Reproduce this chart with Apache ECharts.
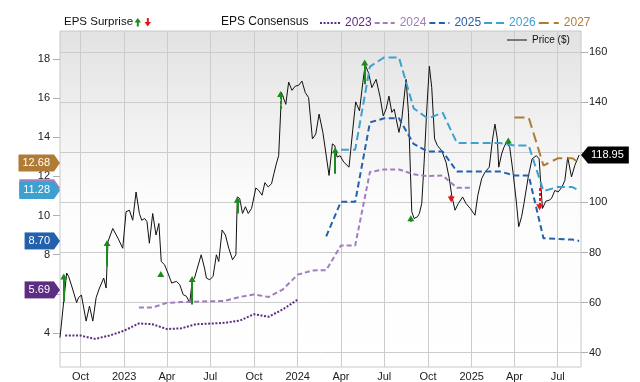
<!DOCTYPE html>
<html><head><meta charset="utf-8">
<script src="https://cdn.jsdelivr.net/npm/echarts@6/dist/echarts.min.js"></script>
<style>html,body{margin:0;padding:0;background:#fff}#c{width:640px;height:382px}</style>
</head><body><div id="c"></div>
<script>
// ---------- data ----------
const priceDates = ['2022-08-19','2022-09-02','2022-09-06','2022-09-12','2022-09-23','2022-09-27','2022-10-03','2022-10-06','2022-10-13','2022-10-20','2022-10-27','2022-11-03','2022-11-10','2022-11-19','2022-11-24','2022-11-28','2022-12-08','2022-12-19','2022-12-29','2023-01-05','2023-01-12','2023-01-19','2023-01-26','2023-02-02','2023-02-07','2023-02-13','2023-02-18','2023-02-23','2023-03-02','2023-03-09','2023-03-15','2023-03-20','2023-03-27','2023-04-03','2023-04-11','2023-04-21','2023-04-28','2023-05-05','2023-05-12','2023-05-19','2023-05-24','2023-05-29','2023-06-04','2023-06-12','2023-06-19','2023-06-23','2023-06-30','2023-07-07','2023-07-14','2023-07-19','2023-07-26','2023-08-02','2023-08-09','2023-08-17','2023-08-24','2023-08-27','2023-09-01','2023-09-07','2023-09-13','2023-09-19','2023-09-26','2023-10-05','2023-10-11','2023-10-18','2023-10-24','2023-10-31','2023-11-07','2023-11-12','2023-11-17','2023-11-22','2023-11-28','2023-12-02','2023-12-07','2023-12-13','2023-12-20','2023-12-27','2024-01-03','2024-01-10','2024-01-17','2024-01-24','2024-02-01','2024-02-08','2024-02-15','2024-02-23','2024-02-27','2024-03-07','2024-03-14','2024-03-19','2024-03-24','2024-03-30','2024-04-07','2024-04-18','2024-04-26','2024-05-02','2024-05-10','2024-05-17','2024-05-22','2024-05-29','2024-06-05','2024-06-14','2024-06-22','2024-06-29','2024-07-05','2024-07-11','2024-07-17','2024-07-22','2024-08-01','2024-08-07','2024-08-16','2024-08-21','2024-08-28','2024-09-02','2024-09-09','2024-09-13','2024-09-18','2024-09-23','2024-09-29','2024-10-04','2024-10-09','2024-10-15','2024-10-21','2024-10-30','2024-11-08','2024-11-15','2024-11-20','2024-11-27','2024-12-04','2024-12-13','2024-12-20','2024-12-29','2025-01-08','2025-01-14','2025-01-22','2025-01-29','2025-02-07','2025-02-14','2025-02-19','2025-02-24','2025-02-27','2025-03-05','2025-03-10','2025-03-15','2025-03-22','2025-03-29','2025-04-05','2025-04-10','2025-04-16','2025-04-21','2025-04-30','2025-05-08','2025-05-17','2025-05-23','2025-05-26','2025-05-30','2025-06-06','2025-06-13','2025-06-18','2025-06-25','2025-07-02','2025-07-10','2025-07-16','2025-07-22','2025-07-30','2025-08-06','2025-08-15'];
const priceValues = [46,71.8,70.5,67,60,62,63,62.5,52.6,58.6,52.6,62,65.8,69.8,65.8,84.4,89.6,85.7,81.7,96.3,96.9,92.9,104.2,95.6,92.9,93.6,92.3,83.7,95.6,87,91.6,76.4,75.1,71.8,67.8,68.5,67.1,63.2,62.5,59.9,68.5,69.8,73.8,79.1,73.8,69.8,69.1,70.5,79.1,76.4,89,87,81.7,77.1,79.1,102.2,101.6,95.6,98.3,95.6,97.6,105.8,104.8,102.9,107.9,106.2,107.5,111.5,115.4,118.7,143.9,143.2,139.2,148.1,144.8,146.5,146.8,148.5,143.9,141.9,125.4,127.3,135.3,128,127.3,110.8,123.4,122.7,118.1,118.7,116.1,114.1,129.3,140.2,136.6,147.9,155,151.8,145.9,149.2,142.5,134.6,137.3,142.5,136,137.3,128,133.3,149.2,136,96.3,93.6,94.3,95.6,99.6,116.1,138.6,154.4,145.9,125.4,122.7,120.7,116.1,109.5,102.9,96.9,99.6,102.2,99.6,97.6,94.9,102.9,109.5,112.1,114.1,125.4,131.3,125.4,114.1,119.4,122.1,124,122.1,112.1,100.2,90.3,94.3,99.6,110.2,117.4,118.7,117.4,108.2,97.6,100.5,100.9,101.6,104.8,104.2,106.2,108.8,118.1,110.2,114.8,118.95];

const cons2023Dates = ['2022-08-30','2022-10-01','2022-11-01','2022-12-01','2023-01-01','2023-02-01','2023-03-01','2023-04-01','2023-05-01','2023-06-01','2023-07-01','2023-08-01','2023-09-01','2023-10-01','2023-11-01','2023-12-01','2023-12-31'];
const cons2023 = [3.87,3.87,3.70,3.87,4.12,4.49,4.45,4.20,4.24,4.45,4.48,4.52,4.63,4.96,4.83,5.21,5.69];
const cons2024Dates = ['2023-02-01','2023-03-01','2023-04-01','2023-05-01','2023-06-01','2023-07-01','2023-08-01','2023-09-01','2023-10-01','2023-11-01','2023-12-01','2024-01-01','2024-02-01','2024-03-01','2024-04-01','2024-05-01','2024-06-01','2024-07-01','2024-08-01','2024-09-01','2024-10-01','2024-11-01','2024-12-01','2024-12-31'];
const cons2024 = [5.30,5.30,5.54,5.58,5.60,5.62,5.64,5.84,5.97,5.84,6.23,6.98,7.19,7.21,8.47,8.47,12.22,12.35,12.35,12.10,12.01,12.04,11.42,11.42];
const cons2025Dates = ['2024-03-01','2024-04-01','2024-05-01','2024-06-01','2024-07-01','2024-08-01','2024-09-01','2024-10-01','2024-11-01','2024-12-01','2025-01-01','2025-02-01','2025-03-01','2025-04-01','2025-05-01','2025-06-01','2025-07-01','2025-08-01','2025-08-15'];
const cons2025 = [8.93,10.70,10.70,14.75,14.96,14.96,13.65,13.26,13.26,12.25,12.25,12.25,12.25,12.04,12.04,8.84,8.80,8.77,8.70];
const cons2026Dates = ['2024-04-01','2024-05-01','2024-06-01','2024-07-01','2024-08-01','2024-09-01','2024-10-01','2024-11-01','2024-12-01','2025-01-01','2025-02-01','2025-03-01','2025-04-01','2025-05-01','2025-06-01','2025-07-01','2025-08-01','2025-08-15'];
const cons2026 = [13.36,13.36,17.60,18.07,18.07,15.47,14.95,15.25,13.70,13.70,13.70,13.70,13.57,13.57,11.25,11.45,11.45,11.28];
const cons2027Dates = ['2025-04-01','2025-05-01','2025-06-01','2025-07-01','2025-08-01','2025-08-15'];
const cons2027 = [15.0,15.0,12.55,12.92,12.92,12.68];

const upDates = ['2022-08-27','2022-11-26','2023-03-19','2023-05-24','2023-08-27','2023-11-26','2024-03-20','2024-05-21','2024-08-26','2025-03-19'];
const upFrom  = [60.3,74.4,70.2,59.2,95.6,137.3,111.5,147.2,92.3,123.4];
const upTo    = [70.4,83.8,71.4,69.4,101.1,143.3,120.9,155.9,93.7,124.8];
const upDashed = [false,false,false,false,false,true,false,false,false,false];
const downDates = ['2024-11-19','2025-05-24'];
const downFrom  = [102.9,105.8];
const downTo    = [101.2,98.1];
const downDashed = [false,true];

const xTicks = ['2022-10-01','2023-01-01','2023-04-01','2023-07-01','2023-10-01','2024-01-01','2024-04-01','2024-07-01','2024-10-01','2025-01-01','2025-04-01','2025-07-01'];
const epsTicks = [4,6,8,10,12,14,16,18];
const priceTicks = [40,60,80,100,120,140,160];
const monthNames = ['Jan','Feb','Mar','Apr','May','Jun','Jul','Aug','Sep','Oct','Nov','Dec'];

const xMin = '2022-08-19';
const xMax = '2025-08-19';

// ---------- helpers ----------
function ts(s){ const p = s.split('-').map(Number); return new Date(p[0], p[1]-1, p[2]).getTime(); }
function zip(d, v){ return d.map((x,i)=>[ts(x), v[i]]); }

const consColors = {'2023':'#5c2d83','2024':'#a17dbd','2025':'#2361ad','2026':'#3ca0d0','2027':'#b07c35'};
const consDash = {'2023':[2,1.6],'2024':[5,3],'2025':[6,3.5],'2026':[8,4],'2027':[10,5]};
const consData = {'2023':[cons2023Dates,cons2023],'2024':[cons2024Dates,cons2024],'2025':[cons2025Dates,cons2025],'2026':[cons2026Dates,cons2026],'2027':[cons2027Dates,cons2027]};
const badgeShift = {'2023':-10,'2024':0,'2025':0,'2026':0,'2027':0};
const FONT = 'Liberation Sans, Arial, sans-serif';

function consSeries(name){
  const [d, v] = consData[name];
  const last = v[v.length-1];
  return {
    name: name, type: 'line', yAxisIndex: 0, symbol: 'none', silent: true,
    data: zip(d, v),
    lineStyle: {color: consColors[name], width: 2, type: consDash[name]},
    itemStyle: {color: consColors[name]},
    z: 3,
    markPoint: {
      silent: true,
      symbol: 'path://M0,0L6,8.5L0,17Z',
      symbolSize: [6, 17],
      symbolOffset: [-3, badgeShift[name]],
      itemStyle: {color: consColors[name]},
      label: {
        show: true, position: 'left', distance: 0,
        formatter: p => Number(p.value).toFixed(2),
        color: '#fff', fontSize: 11, fontFamily: FONT,
        backgroundColor: consColors[name], padding: [2, 4, 2, 4], lineHeight: 13
      },
      data: [{coord: [ts(xMin), last], value: last}]
    }
  };
}

function arrowLines(dates, from, to, dashed, color){
  return dates.map((d,i)=>[
    {coord: [ts(d), from[i]], lineStyle: {color: color, width: 2, type: dashed[i] ? [3,2] : 'solid'}},
    {coord: [ts(d), to[i]]}
  ]);
}

const chart = echarts.init(document.getElementById('c'), null, {renderer: 'canvas'});

chart.setOption({
  animation: false,
  textStyle: {fontFamily: FONT},
  title: [
    {text: 'EPS Surprise', left: 64, top: 16, padding: 0, textStyle: {fontSize: 11.5, fontWeight: 'normal', color: '#111', fontFamily: FONT}},
    {text: 'EPS Consensus', left: 221, top: 16, padding: 0, textStyle: {fontSize: 12, fontWeight: 'normal', color: '#111', fontFamily: FONT}}
  ],
  legend: [
    {
      left: 319, top: 17, padding: 0, itemWidth: 20, itemHeight: 12, itemGap: 2,
      selectedMode: false,
      itemStyle: {opacity: 0},
      textStyle: {fontSize: 12, fontFamily: FONT},
      data: ['2023','2024','2025','2026','2027'].map(n=>({name: n, textStyle: {color: consColors[n]}}))
    },
    {
      left: 506, top: 35, padding: 0, itemWidth: 20, itemHeight: 10,
      selectedMode: false,
      itemStyle: {opacity: 0},
      textStyle: {fontSize: 10, color: '#111', fontFamily: FONT},
      data: [{name: 'Price ($)', lineStyle: {color: '#777', width: 2}}]
    }
  ],
  graphic: [
    {type: 'polygon', shape: {points: [[134.5,22.5],[137.8,18],[141,22.5]]}, style: {fill: '#1c8a1c'}, silent: true},
    {type: 'rect', shape: {x: 136.8, y: 22, width: 2, height: 4.5}, style: {fill: '#1c8a1c'}, silent: true},
    {type: 'rect', shape: {x: 146.8, y: 18, width: 2, height: 4.5}, style: {fill: '#e8161a'}, silent: true},
    {type: 'polygon', shape: {points: [[144.5,22],[147.8,26.5],[151,22]]}, style: {fill: '#e8161a'}, silent: true}
  ],
  grid: {
    left: 60, right: 59, top: 31, bottom: 12, show: true,
    borderColor: '#c8c8c8', borderWidth: 1,
    backgroundColor: {type: 'linear', x: 0, y: 0, x2: 0, y2: 1,
      colorStops: [{offset: 0, color: '#e2e2e2'}, {offset: 0.5, color: '#fcfcfc'}, {offset: 1, color: '#ffffff'}]}
  },
  xAxis: {
    type: 'value', min: ts(xMin), max: ts(xMax),
    axisLine: {show: false},
    axisTick: {show: false, customValues: xTicks.map(ts)},
    axisLabel: {
      customValues: xTicks.map(ts), fontSize: 11, color: '#222', margin: 4, fontFamily: FONT,
      formatter: v => { const d = new Date(v); return d.getMonth() === 0 ? String(d.getFullYear()) : monthNames[d.getMonth()]; }
    },
    splitLine: {show: true, lineStyle: {color: '#cccccc', width: 1}}
  },
  yAxis: [
    {
      type: 'value', position: 'left', min: 2.265, max: 19.417,
      axisLine: {show: false},
      axisTick: {show: true, length: 7, lineStyle: {color: '#b0b0b0'}, customValues: epsTicks},
      axisLabel: {customValues: epsTicks, fontSize: 11, color: '#222', margin: 10, fontFamily: FONT},
      splitLine: {show: false}
    },
    {
      type: 'value', position: 'right', min: 34.26, max: 168.51,
      axisLine: {show: false},
      axisTick: {show: true, length: 7, lineStyle: {color: '#b0b0b0'}, customValues: priceTicks},
      axisLabel: {customValues: priceTicks, fontSize: 11, color: '#222', margin: 8, fontFamily: FONT},
      splitLine: {show: true, lineStyle: {color: '#cccccc', width: 1}}
    }
  ],
  series: [
    {
      name: 'Price ($)', type: 'line', yAxisIndex: 1, symbol: 'none', silent: true,
      data: zip(priceDates, priceValues),
      lineStyle: {color: '#111', width: 1},
      itemStyle: {color: '#777'},
      z: 2,
      markPoint: {
        silent: true,
        symbol: 'path://M7,0L0,8.5L7,17Z',
        symbolSize: [7, 17],
        symbolOffset: [3.5, 0],
        itemStyle: {color: '#000'},
        label: {
          show: true, position: 'right', distance: 0,
          formatter: p => Number(p.value).toFixed(2),
          color: '#fff', fontSize: 11, fontFamily: FONT,
          backgroundColor: '#000', padding: [2, 5, 2, 3], lineHeight: 13
        },
        data: [{coord: [ts(xMax), priceValues[priceValues.length-1]], value: priceValues[priceValues.length-1]}]
      }
    },
    consSeries('2023'), consSeries('2024'), consSeries('2025'), consSeries('2026'), consSeries('2027'),
    {
      name: 'Surprise up', type: 'line', yAxisIndex: 1, data: [], silent: true, z: 5,
      markLine: {
        silent: true, animation: false, symbol: ['none', 'triangle'], symbolSize: [7, 6],
        label: {show: false}, emphasis: {disabled: true},
        lineStyle: {color: '#1c8a1c', width: 2, type: 'solid'},
        data: arrowLines(upDates, upFrom, upTo, upDashed, '#1c8a1c')
      }
    },
    {
      name: 'Surprise down', type: 'line', yAxisIndex: 1, data: [], silent: true, z: 5,
      markLine: {
        silent: true, animation: false, symbol: ['none', 'triangle'], symbolSize: [7, 6],
        label: {show: false}, emphasis: {disabled: true},
        lineStyle: {color: '#e8161a', width: 2, type: 'solid'},
        data: arrowLines(downDates, downFrom, downTo, downDashed, '#e8161a')
      }
    }
  ]
});
</script>
</body></html>
